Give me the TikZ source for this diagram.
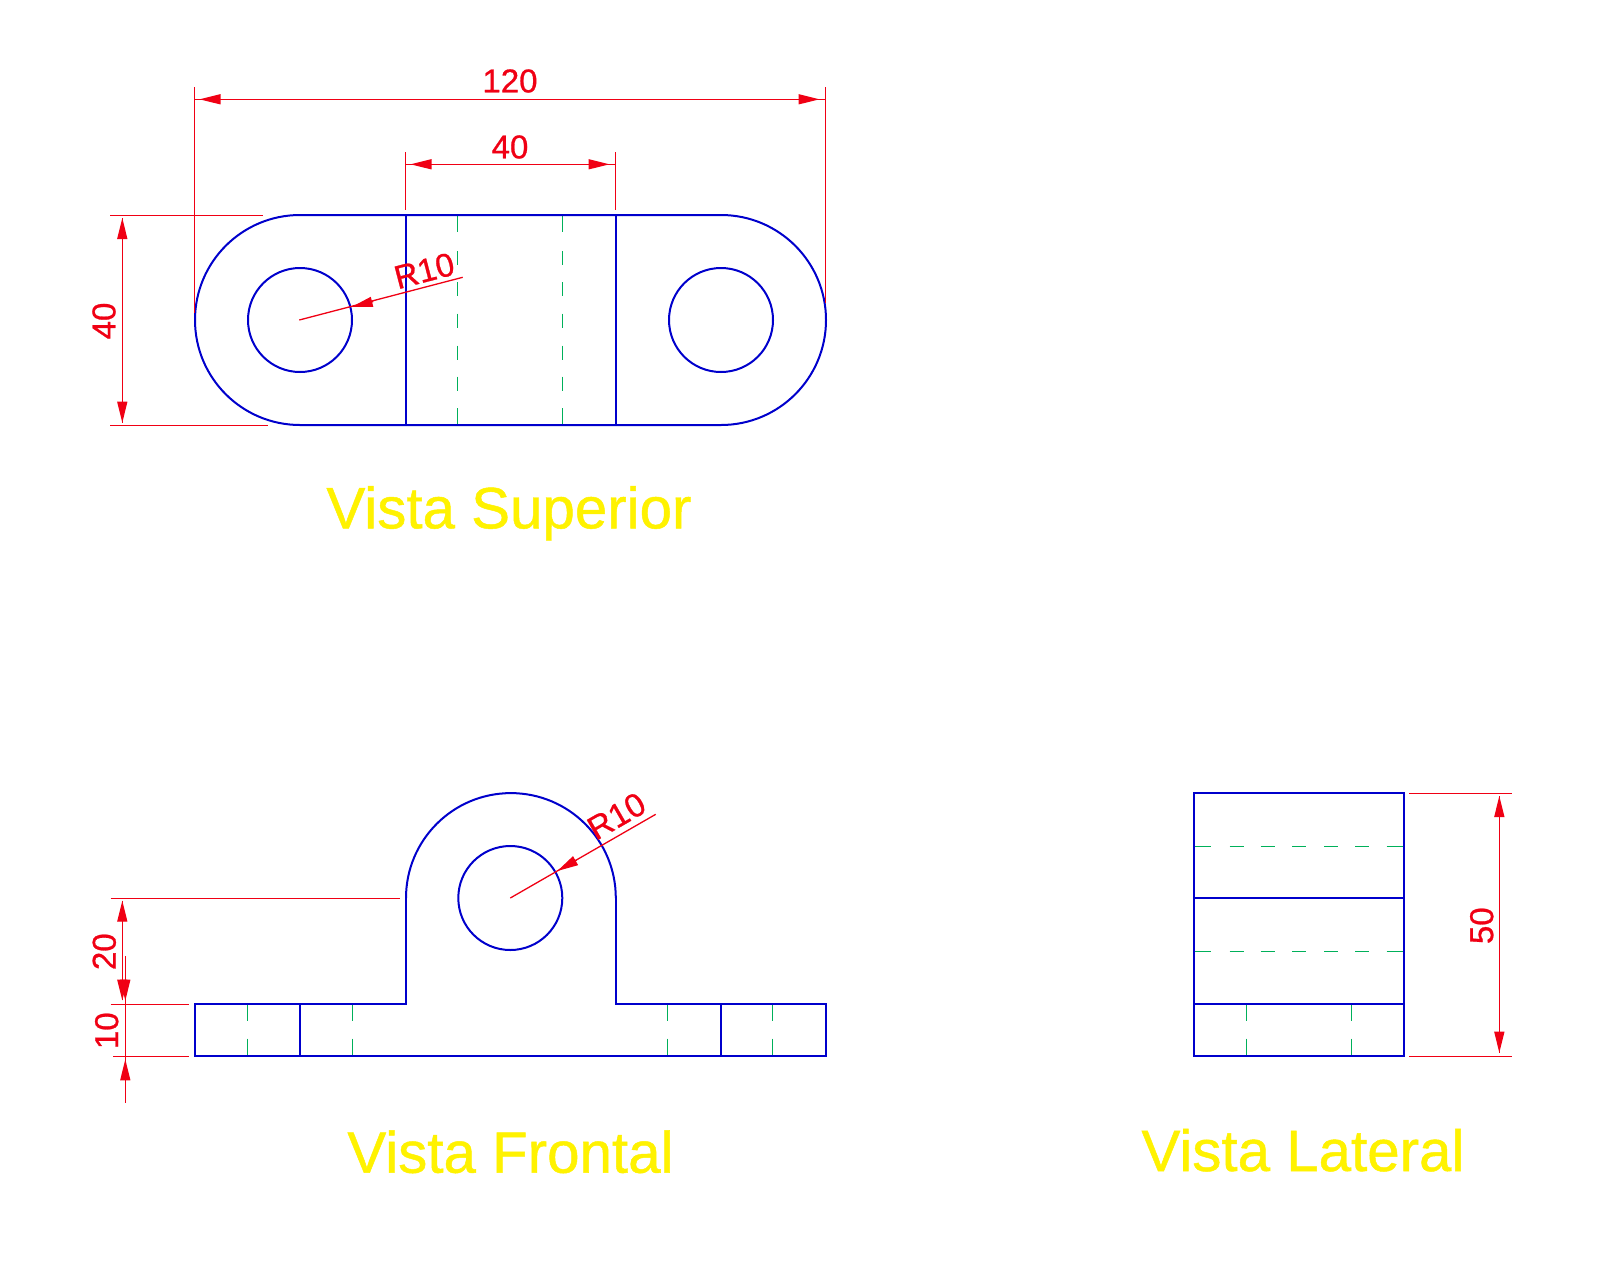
\documentclass[tikz,border=0pt]{standalone}
\usepackage{fontspec}
\setmainfont{Liberation Sans}[FakeBold=0.8]
\newfontfamily\heavier{Liberation Sans}[AutoFakeBold=0.8]
\usetikzlibrary{arrows.meta}
\definecolor{partblue}{RGB}{0,0,204}
\definecolor{hidgreen}{RGB}{0,176,90}
\definecolor{dimred}{RGB}{240,0,20}
\tikzset{
  edge/.style={draw=partblue,line width=2.4pt,line join=miter},
  rim/.style={draw=partblue,line width=2pt},
  hidlong/.style={draw=hidgreen,line width=1.4pt,dash pattern=on 17.3pt off 18.7pt on 14pt off 17pt on 14pt off 17.5pt on 14pt off 18pt on 14pt off 17pt on 14pt off 17.5pt on 17.3pt off 30pt},
  hidshort/.style={draw=hidgreen,line width=1.4pt,dash pattern=on 16.7pt off 18pt on 18pt off 30pt},
  dimline/.style={draw=dimred,line width=1.3pt},
  dimtip/.style={draw=dimred,line width=1.3pt,-{Triangle[length=21pt,width=10pt]}},
  dimtext/.style={text=dimred,inner sep=0pt,font=\heavier\bfseries\fontsize{33}{40}\selectfont},
  title/.style={text=yellow,inner sep=0pt,anchor=base,font=\heavier\bfseries\fontsize{58.3}{66}\selectfont},
}
\begin{document}
\begin{tikzpicture}[x=1pt,y=1pt,yscale=-1]
\useasboundingbox (0,0) rectangle (1600,1280);
\fill[white] (0,0) rectangle (1600,1280);

% ---------- top view ----------
\draw[hidlong] (457.3,215) -- (457.3,425);
\draw[hidlong] (562.3,215) -- (562.3,425);
\draw[rim] (300,215) -- (721,215) arc (-90:90:105) -- (300,425) arc (90:270:105) -- cycle;
\draw[edge] (300,215) -- (721,215) (300,425) -- (721,425);
\draw[edge] (405.7,215) -- (405.7,425) (615.7,215) -- (615.7,425);
\draw[rim] (300,320) circle (52);
\draw[rim] (721,320) circle (52);

% dimensions, top view
\draw[dimline] (194.3,87.3) -- (194.3,313);
\draw[dimline] (825.3,87.3) -- (825.3,303);
\draw[dimline] (194.3,99.3) -- (825.3,99.3);
\draw[dimtip] (218.3,99.3) -- (199.5,99.3);
\draw[dimtip] (801,99.3) -- (819.5,99.3);
\node[dimtext] (d120) at (510,81) {120};

\draw[dimline] (405.3,152.3) -- (405.3,210);
\draw[dimline] (615.3,152.3) -- (615.3,210);
\draw[dimline] (405.3,164.3) -- (615.3,164.3);
\draw[dimtip] (428,164.3) -- (410.5,164.3);
\draw[dimtip] (591,164.3) -- (609.5,164.3);
\node[dimtext] (d40a) at (510,147) {40};

\draw[dimline] (110,215.3) -- (262.7,215.3);
\draw[dimline] (110,425.3) -- (267.7,425.3);
\draw[dimline] (122.3,218) -- (122.3,422.7);
\draw[dimtip] (122.3,240) -- (122.3,218);
\draw[dimtip] (122.3,402.7) -- (122.3,422.7);
\node[dimtext,rotate=90] (d40b) at (104,321) {40};

\draw[dimline] (299.3,320) -- (462.7,277.3);
\draw[dimtip] (373.3,301.5) -- (351.7,306.9);
\node[dimtext,rotate=14.6] (r10a) at (424.3,270.7) {R10};

% ---------- front view ----------
\draw[hidshort] (247.3,1004) -- (247.3,1056);
\draw[hidshort] (352.7,1004) -- (352.7,1056);
\draw[hidshort] (667.3,1004) -- (667.3,1056);
\draw[hidshort] (772.3,1004) -- (772.3,1056);
\draw[edge] (194.7,1056) -- (194.7,1004) -- (406,1004) -- (406,898);
\draw[rim] (406,898) arc (180:360:104.9);
\draw[edge] (615.7,898) -- (615.7,1004) -- (826,1004) -- (826,1056);
\draw[edge,line cap=rect] (194.7,1056) -- (826,1056);
\draw[edge] (300,1004) -- (300,1056) (720.7,1004) -- (720.7,1056);
\draw[rim] (510.3,898) circle (52);

% dimensions, front view
\draw[dimline] (110.7,898.3) -- (400,898.3);
\draw[dimline] (110.7,1004.3) -- (188.7,1004.3);
\draw[dimline] (113.3,1056.3) -- (188.7,1056.3);
\draw[dimline] (122.3,900.7) -- (122.3,1000);
\draw[dimtip] (122.3,922.7) -- (122.3,900.7);
\draw[dimtip] (122.3,981.7) -- (122.3,1000.5);
\node[dimtext,rotate=90] (d20) at (104.3,951.7) {20};
\draw[dimline] (125.3,956) -- (125.3,1103.3);
\draw[dimtip] (125.3,981.7) -- (125.3,1000.7);
\draw[dimtip] (125.3,1081) -- (125.3,1059.3);
\node[dimtext,rotate=90] (d10) at (106.7,1030.7) {10};

\draw[dimline] (510.3,898) -- (655.7,814.3);
\draw[dimtip] (576.7,860) -- (557.3,871);
\node[dimtext,rotate=30] (r10b) at (616.5,816) {R10};

% ---------- side view ----------
\draw[hidlong] (1193.7,846.3) -- (1404,846.3);
\draw[hidlong] (1193.7,951.3) -- (1404,951.3);
\draw[hidshort] (1246.3,1004) -- (1246.3,1055.7);
\draw[hidshort] (1351.3,1004) -- (1351.3,1055.7);
\draw[edge] (1193.7,793) rectangle (1404,1055.7);
\draw[edge] (1193.7,897.7) -- (1404,897.7) (1193.7,1004) -- (1404,1004);

\draw[dimline] (1409.3,793.3) -- (1512,793.3);
\draw[dimline] (1409.3,1056.3) -- (1512,1056.3);
\draw[dimline] (1499.3,796) -- (1499.3,1052.7);
\draw[dimtip] (1499.3,817.7) -- (1499.3,796);
\draw[dimtip] (1499.3,1033.3) -- (1499.3,1052.7);
\node[dimtext,rotate=90] (d50) at (1481.7,925.7) {50};

% ---------- titles ----------
\node[title] (tsup) at (509,528.3) {Vista Superior};
\node[title] (tfro) at (510.5,1172.7) {Vista Frontal};
\node[title] (tlat) at (1303,1171) {Vista Lateral};
\end{tikzpicture}
\end{document}
